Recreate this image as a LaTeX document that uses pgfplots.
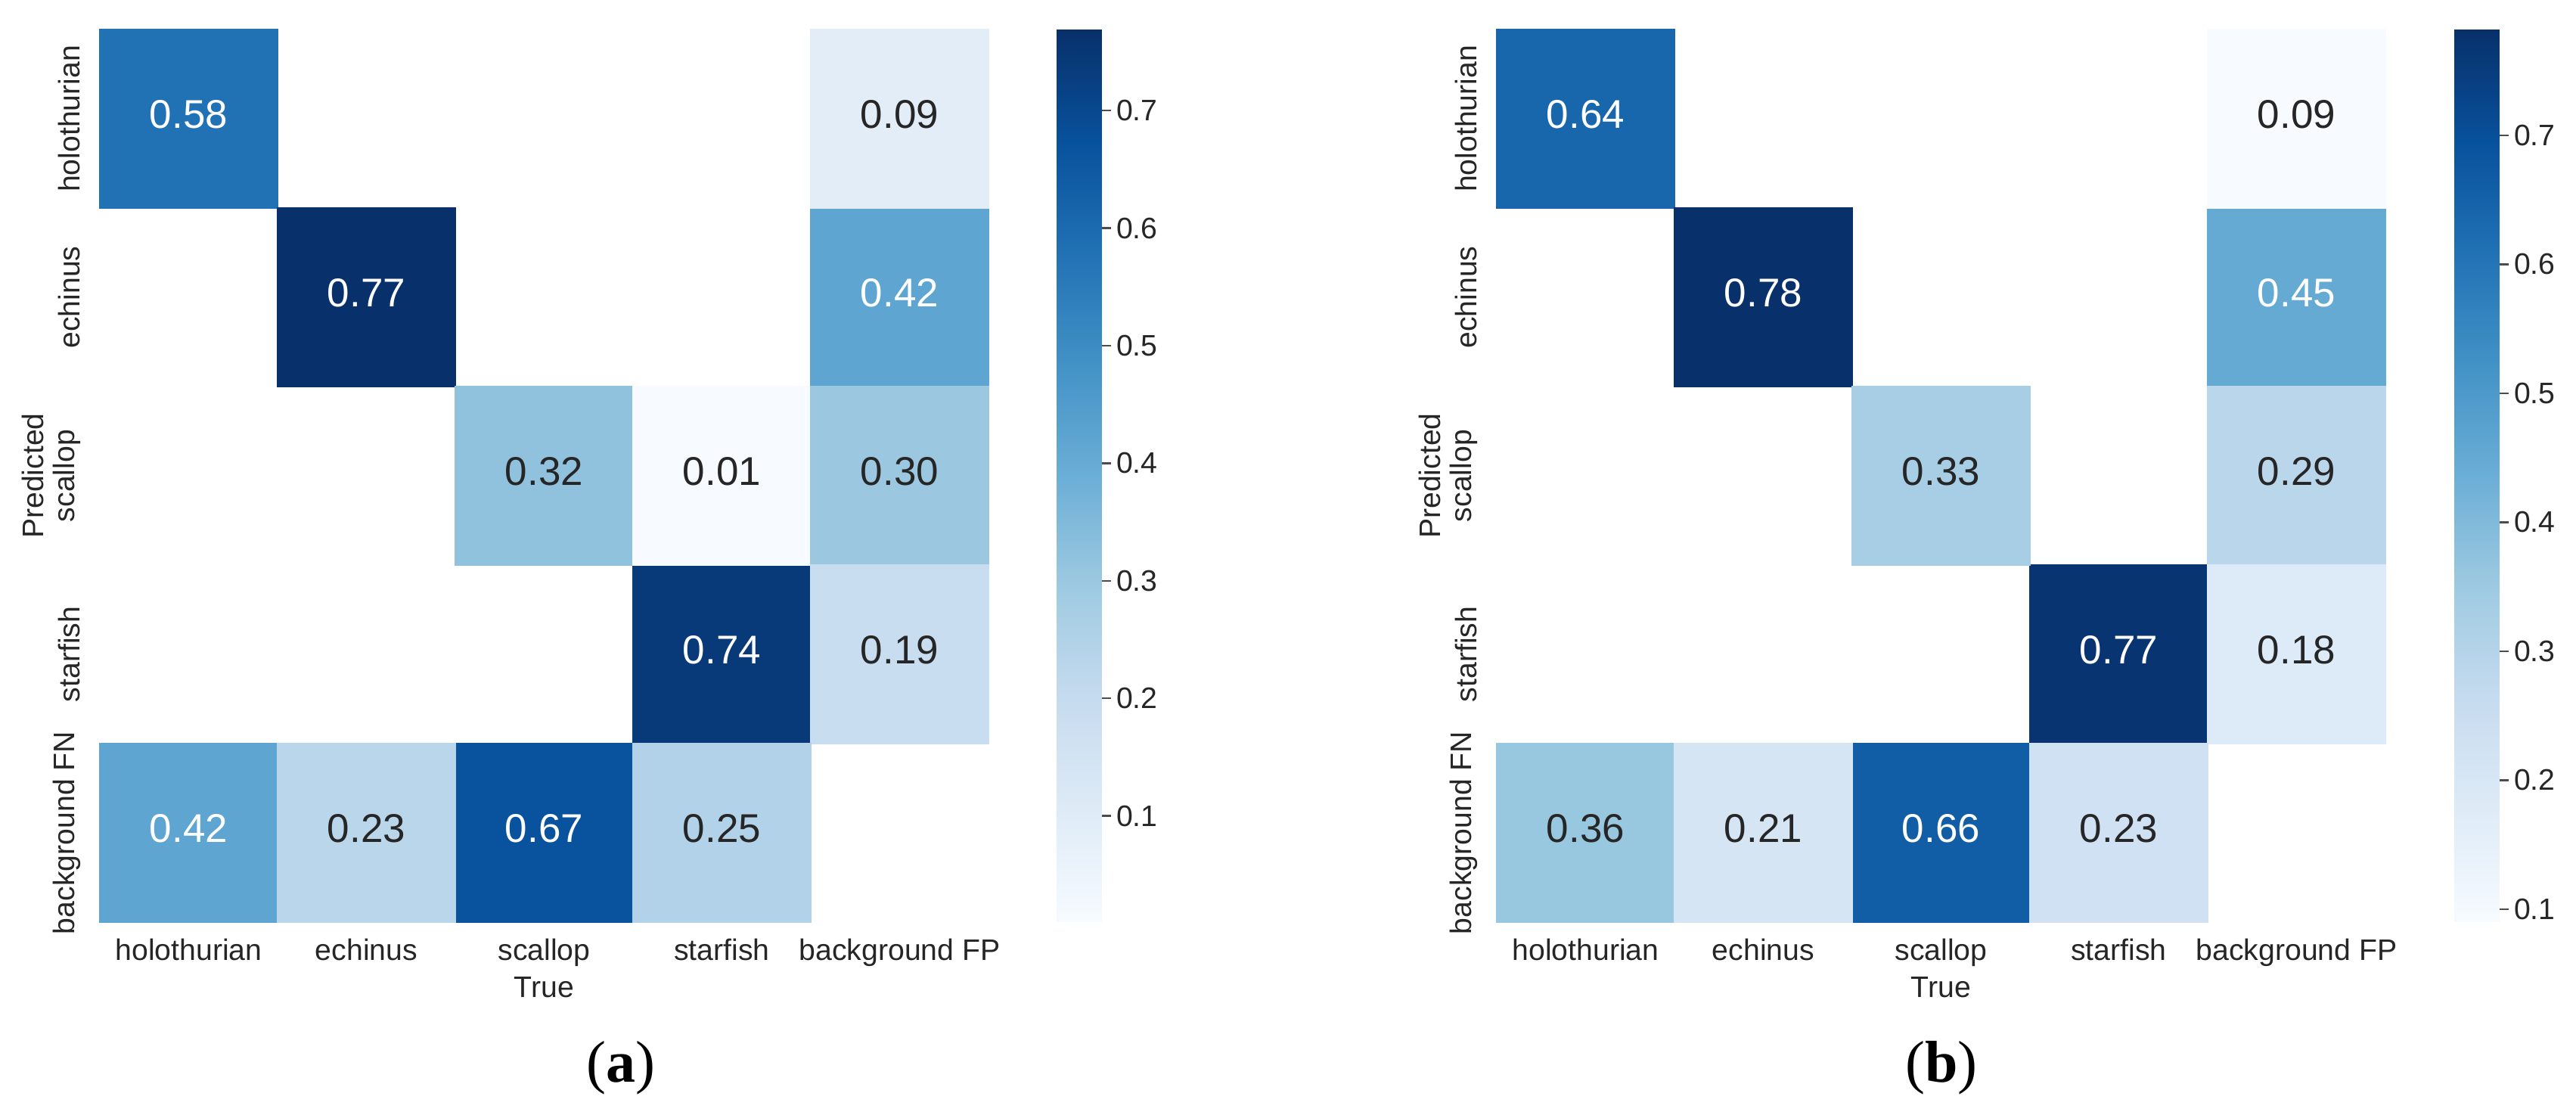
\documentclass[border=0pt]{standalone}
\usepackage{pgfplots}
\usepackage{pgfplotstable}
\pgfplotsset{compat=1.18}
\usepackage{fontspec}
\setmainfont{Liberation Sans}
\newfontfamily\capfont{Liberation Serif}

% cells: x = true class, y = predicted class (0 = top row), v = value
\pgfplotstableread{
x y v
0 0 0.58
1 1 0.77
4 1 0.42
3 3 0.74
0 4 0.42
2 4 0.67
}\Adark
\pgfplotstableread{
x y v
4 0 0.09
2 2 0.32
3 2 0.01
4 2 0.30
4 3 0.19
1 4 0.23
3 4 0.25
}\Alight
\pgfplotstableread{
x y v
0 0 0.64
1 1 0.78
4 1 0.45
3 3 0.77
2 4 0.66
}\Bdark
\pgfplotstableread{
x y v
4 0 0.09
2 2 0.33
4 2 0.29
4 3 0.18
0 4 0.36
1 4 0.21
3 4 0.23
}\Blight

\pgfplotsset{
  /pgf/number format/assume math mode=true,
  colormap={blues}{rgb255=(247,251,255) rgb255=(222,235,247) rgb255=(198,219,239)
    rgb255=(158,202,225) rgb255=(107,174,214) rgb255=(66,146,198)
    rgb255=(33,113,181) rgb255=(8,81,156) rgb255=(8,48,107)},
  cmaxis/.style={
    scale only axis, width=293.75pt, height=295pt, anchor=south west,
    colormap name=blues,
    xmin=-0.5, xmax=4.5, ymin=-0.5, ymax=4.5, y dir=reverse,
    xtick={0,...,4}, ytick={0,...,4},
    xticklabels={holothurian,echinus,scallop,starfish,background FP},
    yticklabels={holothurian,echinus,scallop,starfish,background FN},
    axis line style={draw=none}, major tick length=0pt,
    tick label style={font=\fontsize{9.8}{12}\selectfont, text=black!85},
    xticklabel style={anchor=base, inner sep=0pt, yshift=-12.75pt},
    yticklabel style={xshift=-6.25pt, rotate=90, anchor=south, inner sep=0pt},
    label style={font=\fontsize{9.8}{12}\selectfont, text=black!85},
    xlabel=True, ylabel=Predicted,
    xlabel style={at={(axis description cs:0.5,0)}, anchor=base, yshift=-24.75pt},
    ylabel style={at={(axis description cs:-0.063,0.5)}, anchor=base},
    clip=false,
  },
  cbaxis/.style={
    scale only axis, width=14.75pt, height=295pt, anchor=south west,
    colormap name=blues, enlargelimits=false,
    xmin=0, xmax=1,
    axis line style={draw=none},
    xtick=\empty, ytick={0.1,0.2,...,0.7},
    ytick pos=right, yticklabel pos=right,
    tick align=outside, major tick length=3.3pt,
    tick style={black!70, line width=0.6pt},
    yticklabel style={font=\fontsize{9.8}{12}\selectfont, text=black!85,
      inner sep=1.5pt, /pgf/number format/fixed, /pgf/number format/precision=1},
  },
  cbfill/.style={surf, shader=interp, mesh/cols=2, point meta=explicit},
  heatcells/.style={
    scatter, only marks, mark=square*, mark size=29.5pt,
    point meta=explicit,
    scatter/use mapped color={draw=mapped color, fill=mapped color},
  },
  celltext/.style={
    scatter, only marks, mark=*, mark size=0.5pt,
    mark options={draw opacity=0, fill opacity=0},
    point meta=explicit,
    nodes near coords={\pgfmathprintnumber[fixed,fixed zerofill,precision=2]{\pgfplotspointmeta}},
    nodes near coords align=center,
    every node near coord/.append style={font=\fontsize{13.25}{16}\selectfont,
      anchor=center, yshift=1.5pt, text=#1, text opacity=1, draw opacity=1},
  },
}

\begin{document}
\begin{tikzpicture}
\useasboundingbox (0,0) rectangle (851.5pt,368.5pt);

% (a)
\begin{axis}[cmaxis, at={(33pt,63.75pt)}, point meta min=0.0096, point meta max=0.769]
\addplot[heatcells] table[meta=v] {\Adark};
\addplot[heatcells] table[meta=v] {\Alight};
\addplot[celltext=white] table[meta=v] {\Adark};
\addplot[celltext=black!85] table[meta=v] {\Alight};
\end{axis}
% colour bar (a): rows at the colormap's nine knots
\begin{axis}[cbaxis, at={(349.25pt,63.75pt)}, ymin=0.0096, ymax=0.769,
  point meta min=0.0096, point meta max=0.769]
\addplot[cbfill] table[meta=v] {
x y v
0 0.0096 0.0096
1 0.0096 0.0096
0 0.1045 0.1045
1 0.1045 0.1045
0 0.1995 0.1995
1 0.1995 0.1995
0 0.2944 0.2944
1 0.2944 0.2944
0 0.3893 0.3893
1 0.3893 0.3893
0 0.4843 0.4843
1 0.4843 0.4843
0 0.5792 0.5792
1 0.5792 0.5792
0 0.6741 0.6741
1 0.6741 0.6741
0 0.769 0.769
1 0.769 0.769
};
\end{axis}

% (b)
\begin{axis}[cmaxis, at={(494.75pt,63.75pt)}, point meta min=0.09, point meta max=0.782]
\addplot[heatcells] table[meta=v] {\Bdark};
\addplot[heatcells] table[meta=v] {\Blight};
\addplot[celltext=white] table[meta=v] {\Bdark};
\addplot[celltext=black!85] table[meta=v] {\Blight};
\end{axis}
% colour bar (b)
\begin{axis}[cbaxis, at={(811.25pt,63.75pt)}, ymin=0.09, ymax=0.782,
  point meta min=0.09, point meta max=0.782]
\addplot[cbfill] table[meta=v] {
x y v
0 0.09 0.09
1 0.09 0.09
0 0.1765 0.1765
1 0.1765 0.1765
0 0.263 0.263
1 0.263 0.263
0 0.3495 0.3495
1 0.3495 0.3495
0 0.436 0.436
1 0.436 0.436
0 0.5225 0.5225
1 0.5225 0.5225
0 0.609 0.609
1 0.609 0.609
0 0.6955 0.6955
1 0.6955 0.6955
0 0.782 0.782
1 0.782 0.782
};
\end{axis}

\node[anchor=base, font=\capfont\fontsize{19.5}{23}\selectfont] at (205.25pt,10.75pt) {(\textbf{a})};
\node[anchor=base, font=\capfont\fontsize{19.5}{23}\selectfont] at (641.75pt,10.75pt) {(\textbf{b})};
\end{tikzpicture}
\end{document}
